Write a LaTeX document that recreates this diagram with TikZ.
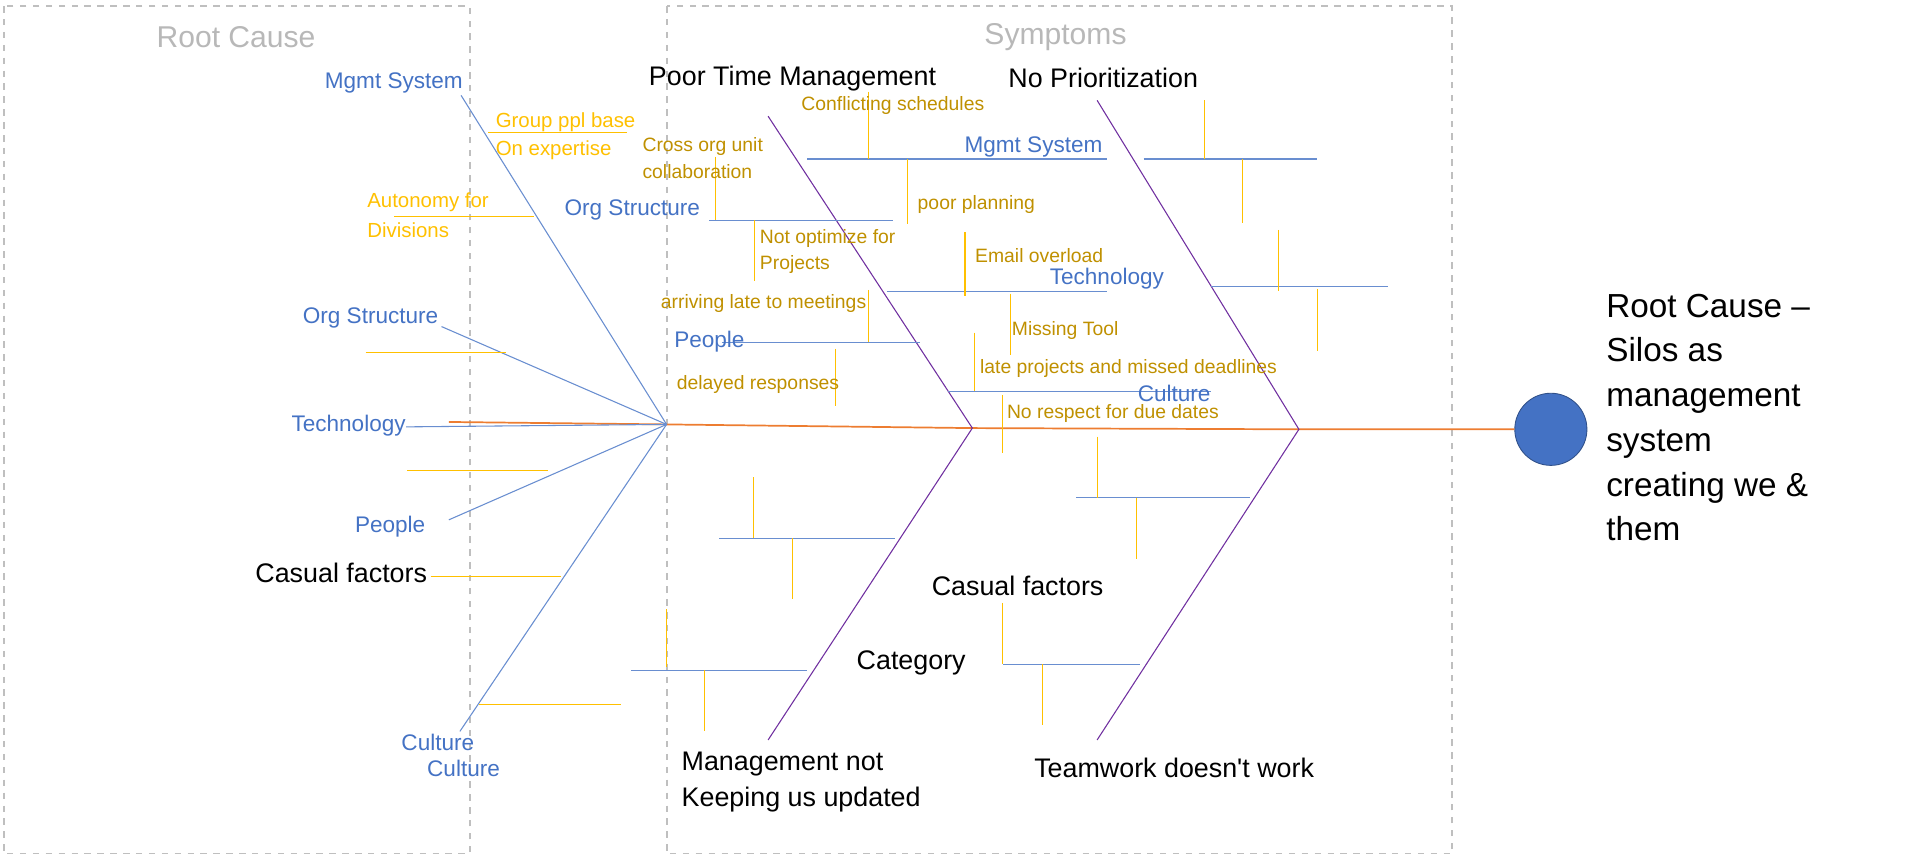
\documentclass[tikz,border=0pt]{standalone}
\usepackage{fontspec}
\setmainfont{Liberation Sans}
\begin{document}
\definecolor{cblue}{HTML}{4472C4}
\definecolor{cyel}{HTML}{FFC000}
\definecolor{cbrown}{HTML}{BF9000}
\definecolor{corange}{HTML}{ED7D31}
\definecolor{cpurp}{HTML}{7030A0}
\begin{tikzpicture}[x=0.02cm,y=-0.02cm,
  box/.style={draw=black!25,dashed,line width=0.9pt},
  title/.style={text=black!28,font=\fontsize{14}{16}\selectfont},
  blab/.style={text=cblue,font=\fontsize{10.5}{12}\selectfont,inner sep=0pt},
  ylab/.style={text=cyel,font=\fontsize{9.5}{11}\selectfont,inner sep=0pt,anchor=west},
  brlab/.style={text=cbrown,font=\fontsize{9}{10}\selectfont,inner sep=0pt,anchor=west},
  klab/.style={text=black,font=\fontsize{12.5}{14}\selectfont,inner sep=0pt},
  bl/.style={draw=cblue!80,line width=0.5pt},
  yl/.style={draw=cyel,line width=0.5pt},
  pl/.style={draw=cpurp,line width=0.5pt}]
\useasboundingbox (0,0) rectangle (1560,698);
\draw[box] (3,5) rectangle (384,698);
\draw[box] (545,5) rectangle (1187,698);
\node[title] (t1) at (193,30) {Root Cause};
\node[title] (t2) at (863,30) {Symptoms};
% spine and head
\coordinate (hub) at (545,347);
\coordinate (a1) at (795,350);
\coordinate (a2) at (1062,351);
\coordinate (os) at (367,345);
\node[circle,fill=cblue,draw=cblue!70!black,minimum size=1.18cm,inner sep=0pt] (head) at (1268,351) {};
\draw[corange,line width=0.8pt] (os) -- (hub) -- (a1) -- (a2) -- (head.west);
% left fan
\coordinate (f1) at (377,78); \coordinate (f2) at (361,267); \coordinate (f3) at (332,349);
\coordinate (f4) at (367,425); \coordinate (f5) at (376,598);
\foreach \p in {f1,f2,f3,f4,f5} \draw[bl] (hub) -- (\p);
% left yellow bars
\draw[yl] (399,108) -- (513,108);
\draw[yl] (322,177) -- (437,177);
\draw[yl] (299,288) -- (414,288);
\draw[yl] (333,385) -- (448,385);
\draw[yl] (352,471) -- (459,471);
\draw[yl] (392,576) -- (508,576);
% purple ribs
\coordinate (p1t) at (628,95); \coordinate (p1b) at (628,605);
\coordinate (p2t) at (897,82); \coordinate (p2b) at (897,605);
\draw[pl] (p1t) -- (a1) -- (p1b);
\draw[pl] (p2t) -- (a2) -- (p2b);
% blue horizontals
\foreach \a/\b/\y in {660/905/130,580/730/180,725/905/238,590/752/280,775/990/320,935/1077/130,990/1135/234,880/1022/407,588/732/440,516/660/548,820/932/543}
  \draw[bl] (\a,\y) -- (\b,\y);
% yellow verticals
\foreach \x/\a/\b in {710/75/130,742/130/183,585/128/180,617/180/230,710/237/280,789/190/242,683/285/332,826/240/290,797/272/320,820/323/370,985/82/130,1016/130/182,1045/188/238,1077/236/287,897/357/407,929/407/457,616/390/440,648/440/490,545/498/545,576/548/598,820/493/543,852/543/593}
  \draw[yl] (\x,\a) -- (\x,\b);
% left labels
\node[blab] (l1) at (322,68) {Mgmt System};
\node[blab] (l2) at (303,260) {Org Structure};
\node[blab] (l3) at (285,348) {Technology};
\node[blab] (l4) at (319,431) {People};
\node[blab] (l5) at (358,607) {Culture};
\node[blab] (l6) at (379,628) {Culture};
\node[klab] (l7) at (279,468) {Casual factors};
\node[ylab] (y1) at (405,100) {Group ppl base};
\node[ylab] (y2) at (405,123) {On expertise};
\node[ylab] (y3) at (300,165) {Autonomy for};
\node[ylab] (y4) at (300,188) {Divisions};
% symptom labels
\node[klab] (k1) at (648,64) {Poor Time Management};
\node[klab] (k2) at (902,64) {No Prioritization};
\node[klab,anchor=west] (k3) at (557,625) {Management not};
\node[klab,anchor=west] (k4) at (557,654) {Keeping us updated};
\node[klab] (k5) at (960,628) {Teamwork doesn\textquotesingle t work};
\node[klab] (k6) at (832,479) {Casual factors};
\node[klab] (k7) at (745,542) {Category};
\node[blab] (s1) at (845,120) {Mgmt System};
\node[blab] (s2) at (517,172) {Org Structure};
\node[blab] (s3) at (905,228) {Technology};
\node[blab] (s4) at (580,279) {People};
\node[blab] (s5) at (960,322) {Culture};
\node[brlab,anchor=center] (b1) at (730,86) {Conflicting schedules};
\node[brlab] (b2) at (525,120) {Cross org unit};
\node[brlab] (b3) at (525,140) {collaboration};
\node[brlab] (b4) at (621,195) {Not optimize for};
\node[brlab] (b5) at (621,216) {Projects};
\node[brlab] (b6) at (750,167) {poor planning};
\node[brlab] (b7) at (797,209) {Email overload};
\node[brlab] (b8) at (540,248) {arriving late to meetings};
\node[brlab] (b9) at (827,270) {Missing Tool};
\node[brlab] (b10) at (801,301) {late projects and missed deadlines};
\node[brlab] (b11) at (553,314) {delayed responses};
\node[brlab] (b12) at (823,338) {No respect for due dates};
\node[anchor=north west,align=left,inner sep=0pt,font=\fontsize{15.5}{20.8}\selectfont] (rc) at (1313,240) {Root Cause –\\Silos as\\management\\system\\creating we \&\\them};
\end{tikzpicture}
\end{document}
